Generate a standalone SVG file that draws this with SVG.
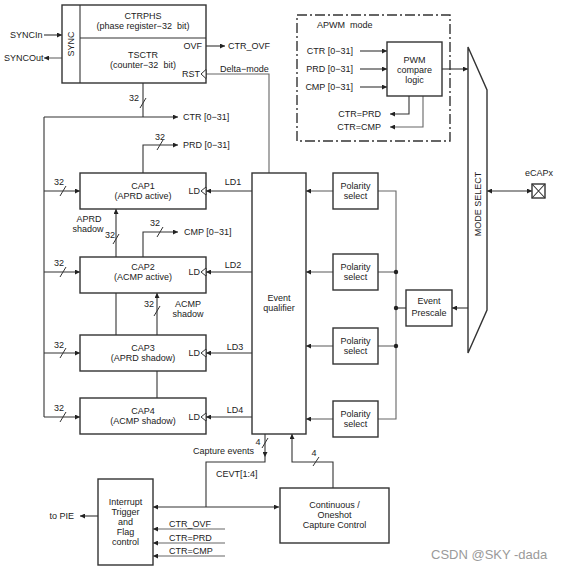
<svg xmlns="http://www.w3.org/2000/svg" width="571" height="571" viewBox="0 0 571 571">
<defs>
<marker id="a" viewBox="0 0 10 10" refX="10" refY="5" markerWidth="6" markerHeight="5" orient="auto-start-reverse" markerUnits="userSpaceOnUse"><path d="M0,0 L10,5 L0,10 z" fill="#222"/></marker>
</defs>
<style>
text{font-family:"Liberation Sans",Arial,sans-serif;font-size:9px;fill:#222;}
.m{text-anchor:middle;}
.e{text-anchor:end;}
.b{fill:#fff;stroke:#333;stroke-width:1.4;}
.l{fill:none;stroke:#333;stroke-width:1.1;}
.g{fill:none;stroke:#666;stroke-width:1.1;}
.ar{marker-end:url(#a);}
.as{marker-start:url(#a);}
.s{stroke:#333;stroke-width:1;}
.o{fill:#fff;stroke:#333;stroke-width:1;}
.d{fill:#222;}
</style>
<rect width="571" height="571" fill="#fff"/>

<g id="connectors">
<line class="l ar" x1="44" y1="35" x2="62" y2="35"/>
<line class="g ar" x1="62" y1="58" x2="44" y2="58"/>
<line class="l ar" x1="206" y1="46" x2="225" y2="46"/>
<path class="g" d="M269,173 V74 H206"/>
<path class="l" d="M143,83 V117"/>
<line class="s" x1="140" y1="108" x2="146" y2="98"/>
<line class="l ar" x1="44" y1="117" x2="178" y2="117"/>
<path class="l" d="M44,117 V417"/>
<line class="l ar" x1="44" y1="191" x2="80" y2="191"/>
<line class="l ar" x1="44" y1="272" x2="80" y2="272"/>
<line class="l ar" x1="44" y1="353" x2="80" y2="353"/>
<line class="l ar" x1="44" y1="417" x2="80" y2="417"/>
<line class="s" x1="60" y1="196" x2="66" y2="186"/>
<line class="s" x1="60" y1="277" x2="66" y2="267"/>
<line class="s" x1="60" y1="358" x2="66" y2="348"/>
<line class="s" x1="60" y1="422" x2="66" y2="412"/>
<path class="l ar" d="M143,173 V145 H178"/>
<line class="s" x1="157" y1="150" x2="163" y2="140"/>
<path class="l ar" d="M143,257 V232 H178"/>
<line class="s" x1="157" y1="237" x2="163" y2="227"/>
<line class="l ar" x1="116" y1="257" x2="116" y2="209"/>
<line class="s" x1="113" y1="244" x2="119" y2="234"/>
<line class="l" x1="116" y1="293" x2="116" y2="335"/>
<line class="l ar" x1="157" y1="335" x2="157" y2="293"/>
<line class="s" x1="154" y1="316" x2="160" y2="306"/>
<line class="l" x1="157" y1="371" x2="157" y2="398"/>
<line class="l ar" x1="252" y1="191" x2="206" y2="191"/>
<line class="l ar" x1="252" y1="272" x2="206" y2="272"/>
<line class="l ar" x1="252" y1="353" x2="206" y2="353"/>
<line class="l ar" x1="252" y1="417" x2="206" y2="417"/>
<line class="g ar" x1="333" y1="191" x2="306" y2="191"/>
<line class="g ar" x1="333" y1="272" x2="306" y2="272"/>
<line class="g ar" x1="333" y1="346" x2="306" y2="346"/>
<line class="g ar" x1="333" y1="419" x2="306" y2="419"/>
<path class="g" d="M378,191 H396 V419 H378"/>
<line class="g" x1="378" y1="272" x2="396" y2="272"/>
<line class="g" x1="378" y1="346" x2="396" y2="346"/>
<line class="l" x1="406" y1="308" x2="396" y2="308"/>
<circle class="d" cx="396" cy="272" r="2.2"/>
<circle class="d" cx="396" cy="308" r="2.2"/>
<circle class="d" cx="396" cy="346" r="2.2"/>
<line class="l ar" x1="468" y1="308" x2="452" y2="308"/>
<line class="l ar as" x1="487" y1="191" x2="532" y2="191"/>
<line class="l ar" x1="360" y1="51" x2="387" y2="51"/>
<line class="l ar" x1="360" y1="69" x2="387" y2="69"/>
<line class="l ar" x1="360" y1="87" x2="387" y2="87"/>
<line class="l ar" x1="442" y1="69" x2="468" y2="69"/>
<path class="l ar" d="M409,96 V114 H390"/>
<path class="g ar" d="M423,96 V127 H390"/>
<path class="l ar" d="M265,434 V457"/>
<path class="l" d="M265,457 V462 H206 V507"/>
<line class="s" x1="262" y1="448" x2="268" y2="438"/>
<path class="l ar" d="M333,488 V462 H292 V434"/>
<line class="s" x1="313" y1="466" x2="319" y2="457"/>
<line class="l ar as" x1="153" y1="507" x2="279" y2="507"/>
<line class="l ar" x1="98" y1="516" x2="80" y2="516"/>
<line class="g ar" x1="225" y1="529" x2="153" y2="529"/>
<line class="g ar" x1="225" y1="543" x2="153" y2="543"/>
<line class="g ar" x1="225" y1="556" x2="153" y2="556"/>
</g>

<g id="sync-block">
<rect class="b" x="62" y="5" width="144" height="78"/>
<line class="l" x1="80" y1="5" x2="80" y2="83" stroke-width="1.4"/>
<line class="l" x1="80" y1="38" x2="206" y2="38" stroke-width="1.4"/>
<text class="m" transform="translate(74,44) rotate(-90)">SYNC</text>
<text class="m" x="143" y="19">CTRPHS</text>
<text class="m" x="143" y="29" xml:space="preserve">(phase register−32  bit)</text>
<text class="m" x="143" y="58">TSCTR</text>
<text class="m" x="143" y="68" xml:space="preserve">(counter−32  bit)</text>
<text class="e" x="202" y="49">OVF</text>
<text class="e" x="200" y="77">RST</text>
<polygon class="o" points="206,69.5 201,74 206,78.5"/>
</g>

<g id="sync-labels">
<text x="10" y="38">SYNCIn</text>
<text x="4" y="61">SYNCOut</text>
<text x="228" y="49">CTR_OVF</text>
<text x="220" y="72">Delta−mode</text>
<text class="m" x="134" y="101">32</text>
<text x="183" y="120">CTR [0−31]</text>
<text class="m" x="160" y="140">32</text>
<text x="183" y="148">PRD [0−31]</text>
<text class="m" x="155" y="226">32</text>
<text x="184" y="235">CMP [0−31]</text>
<text class="m" x="59" y="185">32</text>
<text class="m" x="59" y="266">32</text>
<text class="m" x="59" y="348">32</text>
<text class="m" x="59" y="411">32</text>
<text class="m" x="89" y="222">APRD</text>
<text class="m" x="88" y="232">shadow</text>
<text class="m" x="110" y="238">32</text>
<text class="m" x="149" y="307">32</text>
<text class="m" x="188" y="307">ACMP</text>
<text class="m" x="188" y="317">shadow</text>
<text class="m" x="233" y="185">LD1</text>
<text class="m" x="233" y="268">LD2</text>
<text class="m" x="235" y="350">LD3</text>
<text class="m" x="235" y="413">LD4</text>
</g>

<g id="cap1">
<rect class="b" x="80" y="173" width="126" height="36"/>
<text class="m" x="143" y="189">CAP1</text>
<text class="m" x="143" y="199">(APRD active)</text>
<text class="e" x="200" y="194">LD</text>
<polygon class="o" points="206,187 201,191 206,195"/>
</g>
<g id="cap2">
<rect class="b" x="80" y="257" width="126" height="36"/>
<text class="m" x="143" y="270">CAP2</text>
<text class="m" x="143" y="280">(ACMP active)</text>
<text class="e" x="200" y="275">LD</text>
<polygon class="o" points="206,268 201,272 206,276"/>
</g>
<g id="cap3">
<rect class="b" x="80" y="335" width="126" height="36"/>
<text class="m" x="143" y="351">CAP3</text>
<text class="m" x="143" y="361">(APRD shadow)</text>
<text class="e" x="200" y="356">LD</text>
<polygon class="o" points="206,349 201,353 206,357"/>
</g>
<g id="cap4">
<rect class="b" x="80" y="398" width="126" height="36"/>
<text class="m" x="143" y="414">CAP4</text>
<text class="m" x="143" y="424">(ACMP shadow)</text>
<text class="e" x="200" y="420">LD</text>
<polygon class="o" points="206,413 201,417 206,421"/>
</g>

<g id="event-qualifier">
<rect class="b" x="252" y="173" width="54" height="261"/>
<text class="m" x="279" y="301">Event</text>
<text class="m" x="279" y="311">qualifier</text>
</g>

<g id="polarity1">
<rect class="b" x="333" y="173" width="45" height="36"/>
<text class="m" x="355.5" y="189">Polarity</text>
<text class="m" x="355.5" y="199">select</text>
</g>
<g id="polarity2">
<rect class="b" x="333" y="254" width="45" height="36"/>
<text class="m" x="355.5" y="270">Polarity</text>
<text class="m" x="355.5" y="280">select</text>
</g>
<g id="polarity3">
<rect class="b" x="333" y="328" width="45" height="36"/>
<text class="m" x="355.5" y="344">Polarity</text>
<text class="m" x="355.5" y="354">select</text>
</g>
<g id="polarity4">
<rect class="b" x="333" y="401" width="45" height="36"/>
<text class="m" x="355.5" y="417">Polarity</text>
<text class="m" x="355.5" y="427">select</text>
</g>

<g id="event-prescale">
<rect class="b" x="406" y="290" width="46" height="36"/>
<text class="m" x="429" y="304">Event</text>
<text class="m" x="429" y="316">Prescale</text>
</g>

<g id="mode-select">
<polygon class="b" points="468,47 487,90 487,310 468,353"/>
<text class="m" transform="translate(481,204) rotate(-90)">MODE SELECT</text>
</g>

<g id="ecapx">
<rect class="b" x="532" y="184" width="13" height="14" stroke-width="1.2"/>
<path class="l" d="M532,184 L545,198 M545,184 L532,198"/>
<text class="m" x="539" y="176">eCAPx</text>
</g>

<g id="apwm">
<rect x="297" y="15" width="153" height="126" fill="none" stroke="#333" stroke-width="1.4" stroke-dasharray="10,3,2,3"/>
<text x="317" y="28" xml:space="preserve">APWM  mode</text>
<text class="e" x="353" y="54">CTR [0−31]</text>
<text class="e" x="353" y="72">PRD [0−31]</text>
<text class="e" x="353" y="90">CMP [0−31]</text>
<text class="e" x="381" y="117">CTR=PRD</text>
<text class="e" x="381" y="130">CTR=CMP</text>
</g>
<g id="pwm-logic">
<rect class="b" x="387" y="42" width="55" height="54"/>
<text class="m" x="414.5" y="63">PWM</text>
<text class="m" x="414.5" y="73">compare</text>
<text class="m" x="414.5" y="83">logic</text>
</g>

<g id="interrupt">
<rect class="b" x="98" y="479" width="55" height="86"/>
<text class="m" x="125.5" y="505">Interrupt</text>
<text class="m" x="125.5" y="515">Trigger</text>
<text class="m" x="125.5" y="525">and</text>
<text class="m" x="125.5" y="535">Flag</text>
<text class="m" x="125.5" y="545">control</text>
</g>

<g id="capture-control">
<rect class="b" x="280" y="488" width="109" height="55"/>
<text class="m" x="334.5" y="508">Continuous /</text>
<text class="m" x="334.5" y="518">Oneshot</text>
<text class="m" x="334.5" y="528">Capture Control</text>
</g>

<g id="bottom-labels">
<text class="e" x="74" y="519">to PIE</text>
<text class="e" x="254" y="454">Capture events</text>
<text class="m" x="258" y="445">4</text>
<text class="m" x="314" y="456">4</text>
<text x="216" y="477">CEVT[1:4]</text>
<text x="169" y="527">CTR_OVF</text>
<text x="169" y="541">CTR=PRD</text>
<text x="169" y="554">CTR=CMP</text>
</g>

<text x="431" y="559" style="font-size:13px;fill:#9a9a9a">CSDN @SKY -dada</text>
</svg>
